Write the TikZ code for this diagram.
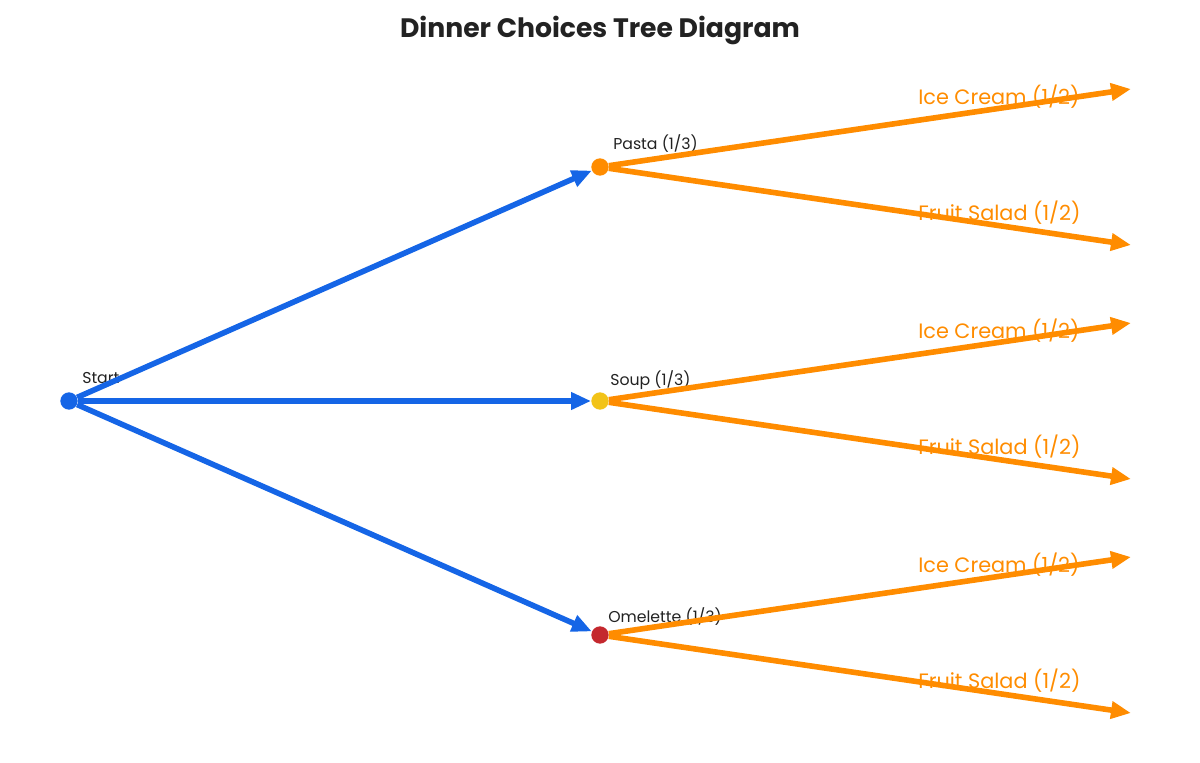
\documentclass[tikz,border=0pt]{standalone}
\usepackage{fontspec}
\setmainfont{Poppins}
\usetikzlibrary{arrows.meta}
\definecolor{treeblue}{HTML}{1565E6}
\definecolor{treeorange}{HTML}{FF8C00}
\definecolor{treegold}{HTML}{F2C318}
\definecolor{treered}{HTML}{C4282E}
\definecolor{treegray}{HTML}{222222}
\begin{document}
\begin{tikzpicture}[x=0.75pt,y=-0.75pt,
    dot/.style={circle,inner sep=0pt,minimum size=13pt},
    pick/.style={line width=4.2pt,-{Triangle[length=15pt,width=12.5pt]}},
    choice/.style={font=\fontsize{11.8}{14}\selectfont,text=treegray,anchor=west,inner sep=0pt},
    dessert/.style={font=\fontsize{15.6}{19}\selectfont,text=treeorange,anchor=west,inner sep=0pt}]
  \useasboundingbox (0,0) rectangle (1200,763);
  \node[font=\bfseries\fontsize{20}{24}\selectfont,text=treegray] (title) at (600,30) {Dinner Choices Tree Diagram};
  \node[dot,fill=treeblue] (start) at (69,401) {};
  \node[dot,fill=treeorange] (pasta) at (600,167) {};
  \node[dot,fill=treegold] (soup) at (600,401) {};
  \node[dot,fill=treered] (omelette) at (600,635) {};
  \node[choice] (start-lbl) at (82,378) {Start};
  \node[choice] (pasta-lbl) at (613,144) {Pasta (1/3)};
  \node[choice] (soup-lbl) at (610,380) {Soup (1/3)};
  \node[choice] (omelette-lbl) at (608,617) {Omelette (1/3)};
  \foreach \m in {pasta,soup,omelette}
    \draw[pick,treeblue] (start) -- (\m);
  \foreach \m/\y in {pasta/167,soup/401,omelette/635}{
    \coordinate (ice-\m) at (1131,\y-78);
    \coordinate (fruit-\m) at (1131,\y+78);
    \draw[pick,treeorange] (\m) -- (ice-\m);
    \draw[pick,treeorange] (\m) -- (fruit-\m);
    \node[dessert] (ice-\m-lbl) at (918,\y-70) {Ice Cream (1/2)};
    \node[dessert] (fruit-\m-lbl) at (918,\y+46) {Fruit Salad (1/2)};
  }
\end{tikzpicture}
\end{document}
